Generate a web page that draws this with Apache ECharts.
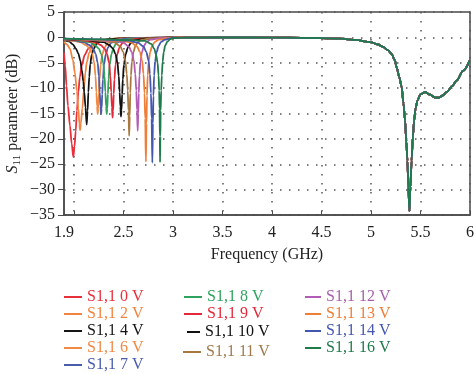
<!DOCTYPE html>
<html><head><meta charset="utf-8">
<script src="https://cdn.jsdelivr.net/npm/echarts@6/dist/echarts.min.js"></script>
<style>html,body{margin:0;padding:0;background:#fff}#c{width:474px;height:374px}</style>
</head><body><div id="c"></div>
<script>
// ---- data (frequency GHz, S11 dB) ----
const names = ['S1,1 0 V','S1,1 2 V','S1,1 4 V','S1,1 6 V','S1,1 7 V','S1,1 8 V','S1,1 9 V','S1,1 10 V','S1,1 11 V','S1,1 12 V','S1,1 13 V','S1,1 14 V','S1,1 16 V'];
const colors = ['#e8303c','#f3843f','#151515','#f08a45','#4a5cab','#2fa35e','#e4283a','#111111','#a8783e','#b35cb5','#ef7e38','#4457b0','#1f7a4c'];
const textColors = ['#e8303c','#f3843f','#151515','#f08a45','#4a5cab','#2fa35e','#e4283a','#111111','#a07a4e','#a860ad','#ef7e38','#4457b0','#1f7a4c'];

const v0 = [[1.9,-3.0],[1.912,-5.5],[1.925,-9.5],[1.94,-13.5],[1.96,-17.4],[1.978,-21],[1.994,-23.6],[2.006,-21.5],[2.018,-18.5],[2.03,-14.5],[2.045,-10.8],[2.06,-7.8],[2.079,-5.5],[2.11,-3.4],[2.146,-2.2],[2.2,-1.2],[2.28,-0.6],[2.4,-0.3],[2.6,-0.15],[2.8,-0.08],[3.0,-0.05]];
const v2 = [[1.9,-0.9],[1.93,-1.4],[1.96,-2.2],[1.99,-4.5],[2.01,-7],[2.03,-10.5],[2.045,-14],[2.055,-17],[2.062,-18.3],[2.07,-17],[2.085,-14],[2.1,-10.5],[2.115,-7],[2.13,-4.9],[2.155,-3],[2.18,-2],[2.22,-1],[2.3,-0.4],[2.5,-0.15],[2.8,-0.08],[3.0,-0.05]];
const v4 = [[1.9,-0.5],[1.95,-0.8],[1.99,-1.4],[2.02,-2.2],[2.045,-3.2],[2.065,-4.6],[2.08,-6.4],[2.095,-8.7],[2.105,-10.8],[2.117,-13.8],[2.129,-17.2],[2.138,-14.5],[2.146,-10.8],[2.155,-7.8],[2.165,-5.3],[2.18,-3.4],[2.2,-2.2],[2.23,-1.3],[2.27,-0.7],[2.35,-0.35],[2.5,-0.15],[3.0,-0.05]];
const v6 = [[1.9,-0.5],[2.0,-0.7],[2.07,-1.0],[2.12,-1.5],[2.16,-2.2],[2.185,-3.3],[2.205,-5],[2.218,-7.6],[2.227,-10.8],[2.234,-13.5],[2.24,-15.1],[2.246,-14],[2.252,-11.2],[2.259,-8.3],[2.27,-5.4],[2.288,-3.3],[2.31,-2],[2.34,-1.1],[2.39,-0.55],[2.5,-0.25],[2.7,-0.1],[3.0,-0.05]];
const v7 = [[1.9,-0.45],[2.0,-0.6],[2.1,-0.95],[2.155,-1.5],[2.195,-2.2],[2.22,-3.3],[2.24,-5],[2.252,-7.6],[2.261,-10.8],[2.268,-13.5],[2.274,-15.1],[2.28,-14],[2.286,-11.2],[2.293,-8.3],[2.304,-5.4],[2.322,-3.3],[2.344,-2],[2.374,-1.1],[2.42,-0.55],[2.53,-0.25],[2.7,-0.1],[3.0,-0.05]];
const v8 = [[1.9,-0.4],[2.0,-0.55],[2.16,-0.95],[2.21,-1.5],[2.251,-2.2],[2.276,-3.3],[2.296,-5],[2.309,-7.6],[2.318,-10.8],[2.325,-13.5],[2.331,-15.1],[2.337,-14],[2.343,-11.2],[2.35,-8.3],[2.361,-5.4],[2.379,-3.3],[2.401,-2],[2.431,-1.1],[2.48,-0.55],[2.59,-0.25],[2.8,-0.1],[3.0,-0.05]];
const v9 = [[1.9,-0.4],[2.05,-0.55],[2.22,-0.95],[2.27,-1.5],[2.31,-2.2],[2.335,-3.3],[2.355,-5],[2.368,-7.6],[2.377,-10.8],[2.384,-13.8],[2.39,-15.8],[2.396,-14.5],[2.402,-11.2],[2.409,-8.3],[2.42,-5.4],[2.438,-3.3],[2.46,-2],[2.49,-1.1],[2.54,-0.55],[2.65,-0.25],[2.85,-0.1],[3.0,-0.05]];
const v10 = [[1.9,-0.35],[2.1,-0.5],[2.3,-0.95],[2.355,-1.5],[2.395,-2.2],[2.42,-3.3],[2.44,-5],[2.453,-7.6],[2.462,-10.8],[2.469,-13.6],[2.475,-15.6],[2.481,-14.3],[2.487,-11.2],[2.494,-8.3],[2.505,-5.4],[2.523,-3.3],[2.545,-2],[2.575,-1.1],[2.62,-0.55],[2.72,-0.25],[2.9,-0.1],[3.0,-0.05]];
const v11 = [[1.9,-0.3],[2.1,-0.45],[2.3,-0.7],[2.41,-1.0],[2.468,-1.8],[2.498,-2.9],[2.52,-4.6],[2.534,-7.2],[2.544,-10.5],[2.551,-14.5],[2.558,-19.4],[2.564,-15.5],[2.569,-11],[2.576,-7.5],[2.586,-4.8],[2.601,-2.9],[2.621,-1.7],[2.648,-0.9],[2.688,-0.45],[2.76,-0.2],[3.0,-0.05]];
const v12 = [[1.9,-0.3],[2.15,-0.45],[2.4,-0.7],[2.494,-1.0],[2.554,-1.8],[2.584,-2.9],[2.606,-4.6],[2.62,-7.2],[2.63,-10.5],[2.637,-14.3],[2.644,-18.4],[2.65,-15],[2.655,-11],[2.662,-7.5],[2.672,-4.8],[2.687,-2.9],[2.707,-1.7],[2.734,-0.9],[2.774,-0.45],[2.85,-0.2],[3.0,-0.05]];
const v13 = [[1.9,-0.3],[2.2,-0.45],[2.48,-0.7],[2.577,-1.0],[2.637,-1.8],[2.667,-2.9],[2.689,-4.6],[2.703,-7.2],[2.713,-11],[2.72,-16],[2.727,-24.5],[2.733,-17],[2.738,-11.5],[2.745,-7.5],[2.755,-4.8],[2.77,-2.9],[2.79,-1.7],[2.817,-0.9],[2.857,-0.45],[2.93,-0.2],[3.0,-0.08]];
const v14 = [[1.9,-0.25],[2.25,-0.4],[2.55,-0.65],[2.642,-1.0],[2.702,-1.8],[2.732,-2.9],[2.754,-4.6],[2.768,-7.2],[2.778,-11],[2.785,-16],[2.792,-24.7],[2.798,-17],[2.803,-11.5],[2.81,-7.5],[2.82,-4.8],[2.835,-2.9],[2.855,-1.7],[2.88,-0.9],[2.92,-0.45],[2.97,-0.22],[3.0,-0.12]];
const v16 = [[1.9,-0.25],[2.3,-0.4],[2.6,-0.55],[2.72,-0.7],[2.782,-1.3],[2.81,-2.2],[2.83,-3.4],[2.845,-5],[2.855,-7.5],[2.861,-10.5],[2.865,-14.1],[2.868,-19.5],[2.87,-24.6],[2.873,-19.5],[2.876,-14.5],[2.881,-10.5],[2.888,-7.5],[2.896,-4.8],[2.907,-2.9],[2.922,-1.6],[2.942,-0.9],[2.972,-0.35],[3.0,-0.15]];
// common high-frequency part shared by all bias voltages
const tail = [[3.1,-0.04],[3.5,-0.02],[4.0,-0.03],[4.3,-0.08],[4.5,-0.13],[4.69,-0.26],[4.85,-0.5],[4.99,-0.93],[5.07,-1.4],[5.125,-1.9],[5.17,-2.5],[5.21,-3.3],[5.24,-4.5],[5.26,-5.9],[5.285,-7.8],[5.31,-9.8],[5.328,-13],[5.344,-16.4],[5.357,-20.5],[5.368,-24.3],[5.378,-29.5],[5.388,-34.3],[5.398,-29.5],[5.41,-24.3],[5.423,-19.5],[5.436,-16.4],[5.45,-14],[5.47,-12.4],[5.5,-11.2],[5.546,-10.8],[5.597,-11.3],[5.64,-11.8],[5.68,-11.9],[5.72,-11.5],[5.765,-10.8],[5.82,-9.6],[5.866,-8.5],[5.93,-6.6],[6.0,-4.5]];
const curves = [v0,v2,v4,v6,v7,v8,v9,v10,v11,v12,v13,v14,v16];

const xLabelValues = [1.9,2.5,3,3.5,4,4.5,5,5.5,6];
const xTickValues = [2,2.5,3,3.5,4,4.5,5,5.5,6];

const FONT = '"Liberation Serif","DejaVu Serif",serif';
const minus = v => (v < 0 ? '\u2212' + (-v) : String(v));

function legendData(idx) {
  return idx.map(i => ({ name: names[i], textStyle: { color: textColors[i] } }));
}
function legend(idx, left, top, iw) {
  return {
    orient: 'vertical', left: left, top: top, padding: 0, itemGap: 1,
    itemWidth: iw, itemHeight: 2, icon: 'rect', selectedMode: false,
    textStyle: { fontFamily: FONT, fontSize: 16, lineHeight: 16 },
    data: legendData(idx)
  };
}

const chart = echarts.init(document.getElementById('c'), null, { renderer: 'canvas' });
chart.setOption({
  animation: false,
  backgroundColor: '#fff',
  color: colors,
  grid: { left: 64, right: 4, top: 12, bottom: 159, outerBoundsMode: 'none', containLabel: false,
          show: true, borderColor: '#4a4a4a', borderWidth: 1.5, backgroundColor: 'transparent' },
  legend: [
    legend([0,1,2,3,4], 64, 289, 18),
    legend([5,6], 184, 289, 18),
    legend([7], 187, 324, 13),
    legend([8], 183, 344, 18),
    legend([9,10,11,12], 305, 289, 16)
  ],
  xAxis: {
    type: 'value', min: 1.9, max: 6,
    name: 'Frequency (GHz)', nameLocation: 'middle', nameGap: 32, nameMoveOverlap: false,
    nameTextStyle: { fontFamily: FONT, fontSize: 16, color: '#222' },
    axisLine: { onZero: false, lineStyle: { color: '#4a4a4a', width: 1.5 } },
    axisTick: { inside: true, length: 4, customValues: xTickValues, lineStyle: { color: '#4a4a4a' } },
    axisLabel: { customValues: xLabelValues, margin: 10, fontFamily: FONT, fontSize: 16, color: '#222', formatter: v => String(v) },
    splitLine: { show: true, lineStyle: { color: '#555', width: 1.5, type: [1.5, 7.5] } }
  },
  yAxis: {
    type: 'value', min: -35, max: 5, interval: 5,
    name: '{i|S}{s|11}{n| parameter (dB)}', nameLocation: 'middle', nameGap: 41, nameMoveOverlap: false,
    nameTextStyle: { fontFamily: FONT, fontSize: 16, color: '#222',
      rich: {
        i: { fontFamily: FONT, fontSize: 16, fontStyle: 'italic', color: '#222', lineHeight: 20, verticalAlign: 'middle' },
        s: { fontFamily: FONT, fontSize: 11, color: '#222', lineHeight: 20, verticalAlign: 'bottom', padding: [8, 0, 0, 0] },
        n: { fontFamily: FONT, fontSize: 16, color: '#222', lineHeight: 20, verticalAlign: 'middle' }
      } },
    axisLine: { show: true, lineStyle: { color: '#4a4a4a', width: 1.5 } },
    axisTick: { show: true, inside: false, length: 6, lineStyle: { color: '#4a4a4a' } },
    axisLabel: { margin: 9, fontFamily: FONT, fontSize: 16, color: '#222', formatter: minus },
    splitLine: { show: true, lineStyle: { color: '#555', width: 1.5, type: [1.5, 7.5] } }
  },
  series: curves.map((c, i) => ({
    name: names[i], type: 'line', data: c.concat(tail),
    showSymbol: false, smooth: 0.3, smoothMonotone: 'x',
    lineStyle: { width: 1.8, color: colors[i] }, itemStyle: { color: colors[i] },
    z: 2 + i
  }))
});
</script></body></html>
